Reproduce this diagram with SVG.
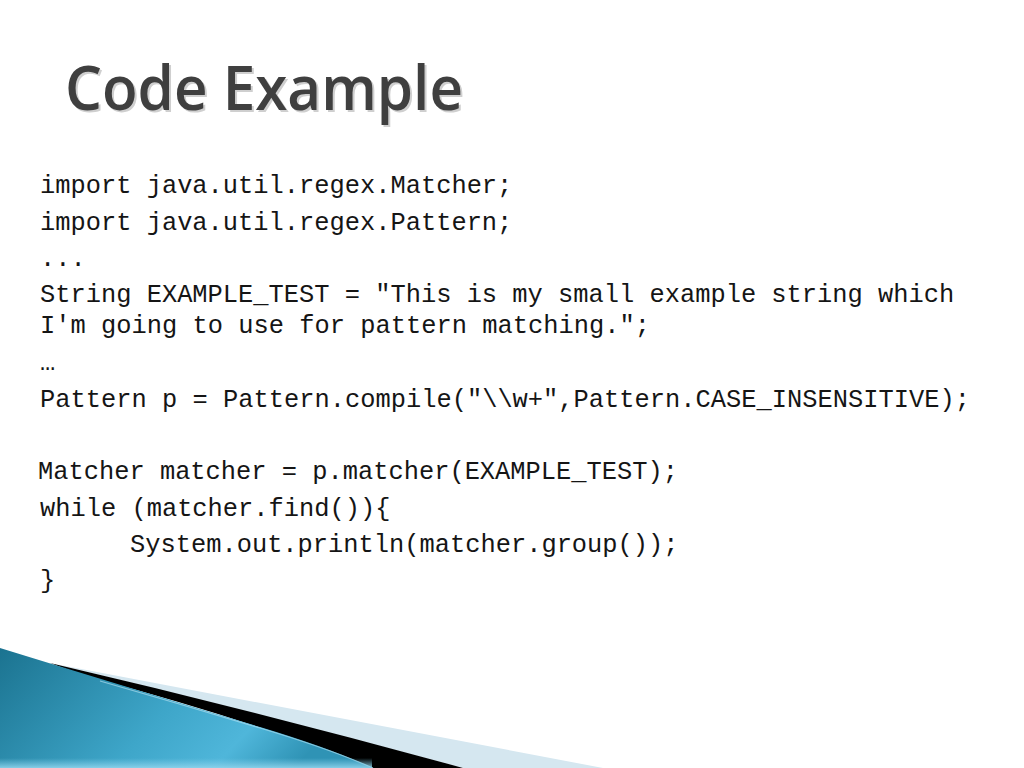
<svg xmlns="http://www.w3.org/2000/svg" width="1024" height="768" viewBox="0 0 1024 768">
  <style>
    .code { font-family: "Liberation Mono", "Courier New", monospace; font-size: 25.4px; fill: #151515; }
    .title { font-family: "Open Sans", "DejaVu Sans", sans-serif; font-size: 62px; font-weight: 600; fill: #3f3f3f; }
    .titleShadow { font-family: "Open Sans", "DejaVu Sans", sans-serif; font-size: 62px; font-weight: 600; fill: #cfcfcf; }
  </style>
  <defs>
    <linearGradient id="blueGrad" x1="0" y1="0" x2="1" y2="0.3">
      <stop offset="0" stop-color="#1b7390"/>
      <stop offset="0.55" stop-color="#3ea6c9"/>
      <stop offset="0.8" stop-color="#4fb6da"/>
      <stop offset="1" stop-color="#2f93b5"/>
    </linearGradient>
    <linearGradient id="bottomBand" x1="0" y1="0" x2="0" y2="1">
      <stop offset="0" stop-color="#7fcce6" stop-opacity="0"/>
      <stop offset="1" stop-color="#8fd4ec" stop-opacity="0.9"/>
    </linearGradient>
  </defs>
  <rect width="1024" height="768" fill="#ffffff"/>

  <g id="decoration">
    <path id="lightStrip" d="M55 664 L603 768 L463 768 Q 260 714 55 664 Z" fill="#d5e7f0"/>
    <path id="blackWedge" d="M50 663 Q 260 712 463 768 L373 768 Q 250 720 100 680 Q 70 671 50 663 Z" fill="#000000"/>
    <path id="blueWave" d="M0 648 Q 110 682 260 727 Q 330 748 373 768 L0 768 Z" fill="url(#blueGrad)"/>
    <path d="M100 681 Q 180 704 260 728 Q 330 749 373 768" fill="none" stroke="#a9dcee" stroke-width="1.2" opacity="0.7"/>
    <rect x="0" y="758" width="372" height="10" fill="url(#bottomBand)"/>
  </g>

  <g id="title">
    <text class="titleShadow" x="67" y="112" textLength="398" lengthAdjust="spacingAndGlyphs">Code Example</text>
    <text class="title" x="65" y="110" textLength="398" lengthAdjust="spacingAndGlyphs">Code Example</text>
  </g>

  <g id="code">
    <text class="code" x="40" y="193">import java.util.regex.Matcher;</text>
    <text class="code" x="40" y="230">import java.util.regex.Pattern;</text>
    <text class="code" x="40" y="266">...</text>
    <text class="code" x="40" y="302">String EXAMPLE_TEST = "This is my small example string which</text>
    <text class="code" x="40" y="333" textLength="610" lengthAdjust="spacing">I'm going to use for pattern matching.";</text>
    <text class="code" x="40" y="370">…</text>
    <text class="code" x="40" y="407" textLength="930" lengthAdjust="spacing">Pattern p = Pattern.compile("\\w+",Pattern.CASE_INSENSITIVE);</text>
    <text class="code" x="38" y="479">Matcher matcher = p.matcher(EXAMPLE_TEST);</text>
    <text class="code" x="40" y="516">while (matcher.find()){</text>
    <text class="code" x="130" y="552">System.out.println(matcher.group());</text>
    <text class="code" x="40" y="588">}</text>
  </g>
</svg>
